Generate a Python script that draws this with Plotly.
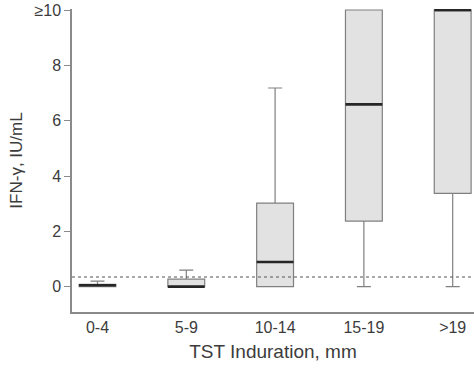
import plotly.graph_objects as go

categories = ["0-4", "5-9", "10-14", "15-19", ">19"]
q1 = [0.0, 0.0, 0.0, 2.37, 3.37]
median = [0.05, 0.0, 0.89, 6.59, 10.0]
q3 = [0.08, 0.27, 3.02, 10.0, 10.0]
lower = [0.0, 0.0, 0.0, 0.0, 0.0]
upper = [0.2, 0.6, 7.18, 10.0, 10.0]
threshold = 0.35
y_tickvals = [0, 2, 4, 6, 8, 10]
y_ticktext = ["0", "2", "4", "6", "8", "≥10"]

pos = list(range(len(categories)))
BOXW = 0.415
FONT = "Liberation Sans, Arial, sans-serif"
TXT = "#3c3c3c"

fig = go.Figure()
fig.add_trace(go.Box(
    x=pos, q1=q1, median=median, q3=q3,
    lowerfence=lower, upperfence=upper,
    width=BOXW, whiskerwidth=0.38,
    fillcolor="#e2e2e2",
    line=dict(color="#808080", width=1.2),
    boxpoints=False, hoverinfo="skip", showlegend=False,
))
# thick median markers drawn as degenerate boxes
fig.add_trace(go.Box(
    x=pos, q1=median, median=median, q3=median,
    lowerfence=median, upperfence=median,
    width=BOXW, whiskerwidth=0,
    fillcolor="rgba(0,0,0,0)",
    line=dict(color="#262626", width=2.6),
    boxpoints=False, hoverinfo="skip", showlegend=False,
))

fig.add_shape(type="line", xref="paper", yref="y", x0=0, x1=1,
              y0=threshold, y1=threshold,
              line=dict(color="#555555", width=1.2, dash="dot"))

fig.update_layout(
    width=474, height=368,
    margin=dict(l=72, r=0, t=9, b=56),
    paper_bgcolor="white", plot_bgcolor="white",
    boxmode="overlay",
    font=dict(family=FONT, size=16, color=TXT),
    xaxis=dict(
        range=[-0.287, 4.24],
        tickmode="array", tickvals=pos, ticktext=categories,
        showline=True, linecolor="#8a8a8a", linewidth=1.5,
        showgrid=False, zeroline=False, ticks="",
        tickfont=dict(size=16, color=TXT),
        title=dict(text="TST Induration, mm", font=dict(size=19, color=TXT), standoff=10),
    ),
    yaxis=dict(
        range=[-0.915, 10.036],
        tickmode="array", tickvals=y_tickvals, ticktext=y_ticktext,
        showline=True, linecolor="#8a8a8a", linewidth=1.5,
        showgrid=False, zeroline=False,
        ticks="outside", ticklen=6, tickcolor="#8a8a8a", tickwidth=1.2,
        tickfont=dict(size=16, color=TXT),
        title=dict(text="IFN-γ, IU/mL", font=dict(size=17, color=TXT), standoff=8),
    ),
)

fig.write_html(
    "out.html",
    config={"displayModeBar": False},
    post_script="document.body.style.margin='0';document.body.style.overflow='hidden';",
)
